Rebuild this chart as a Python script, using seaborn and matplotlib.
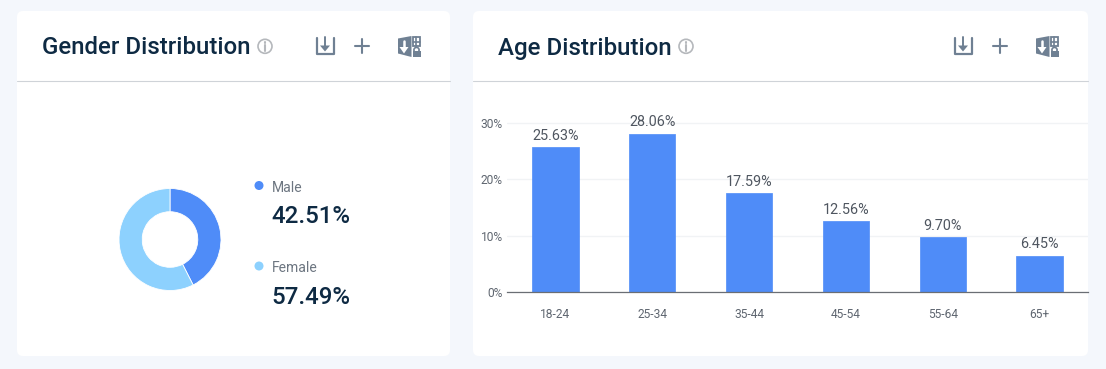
import matplotlib
matplotlib.use("Agg")
import matplotlib.pyplot as plt
from matplotlib.patches import FancyBboxPatch, Circle, Rectangle, Polygon
import seaborn as sns

genders = ["Male", "Female"]
gender_shares = [42.51, 57.49]
age_groups = ["18-24", "25-34", "35-44", "45-54", "55-64", "65+"]
age_shares = [25.63, 28.06, 17.59, 12.56, 9.70, 6.45]
y_ticks = [0, 10, 20, 30]
titles = ["Gender Distribution", "Age Distribution"]

W, H = 1106, 369
BLUE = "#4f8cf8"
LIGHT = "#8dd1fe"
DARK = "#0e2a43"
ICON = "#6f8093"

sns.set_theme(style="white")
plt.rcParams["font.family"] = ["Roboto", "DejaVu Sans"]


def px(size):
    # CSS pixels to points
    return size * 72 / 100


def box(x, y, w, h):
    return [x / W, 1 - (y + h) / H, w / W, h / H]


def draw_card(ax, x0, x1, title, info_x, dl_x, plus_x, sheet_x):
    y0, y1 = 11, 356
    # faint shadow
    ax.add_patch(FancyBboxPatch((x0 + 6, y0 + 6), x1 - x0 - 12, y1 - y0 - 10,
                                boxstyle="round,pad=0,rounding_size=6",
                                fc="#e9eef6", ec="#e9eef6", lw=4))
    ax.add_patch(FancyBboxPatch((x0 + 6, y0 + 6), x1 - x0 - 12, y1 - y0 - 12,
                                boxstyle="round,pad=6,rounding_size=6",
                                fc="white", ec="none"))
    ax.plot([x0, x1], [80.8, 80.8], color="#cfd3d8", lw=0.8)
    ax.text(x0 + 24.5, 45.5, title, fontsize=px(24), fontweight="medium", color=DARK,
            va="center_baseline", ha="left")

    # info icon
    ax.add_patch(Circle((info_x, 46.3), 7, fc="none", ec="#b5b8bc", lw=1.2))
    ax.plot([info_x, info_x], [45, 50.5], color="#b5b8bc", lw=1.5)
    ax.plot([info_x, info_x], [41.5, 43.2], color="#b5b8bc", lw=1.5)

    # download icon
    ax.plot([dl_x - 8.5, dl_x - 8.5, dl_x + 8.5, dl_x + 8.5], [38, 54, 54, 38], color=ICON, lw=1.6)
    ax.plot([dl_x, dl_x], [37, 47], color=ICON, lw=1.4)
    ax.add_patch(Polygon([[dl_x - 5, 45.5], [dl_x + 5, 45.5], [dl_x, 51.5]], fc=ICON, ec="none"))

    # plus icon
    ax.plot([plus_x - 7, plus_x + 7], [46, 46], color=ICON, lw=1.5)
    ax.plot([plus_x, plus_x], [39, 53], color=ICON, lw=1.5)

    # sheet with lock icon
    ax.add_patch(Polygon([[sheet_x - 11, 38.5], [sheet_x + 2.5, 36], [sheet_x + 2.5, 57], [sheet_x - 11, 53.5]],
                         fc=ICON, ec="none"))
    ax.plot([sheet_x - 5, sheet_x - 5], [41, 49], color="white", lw=1.8)
    ax.add_patch(Polygon([[sheet_x - 9.5, 47], [sheet_x - 0.5, 47], [sheet_x - 5, 53.5]], fc="white", ec="none"))
    ax.add_patch(Rectangle((sheet_x + 4, 37), 7, 9, fc="none", ec=ICON, lw=1.3))
    ax.plot([sheet_x + 4, sheet_x + 11], [41.5, 41.5], color=ICON, lw=1.2)
    ax.plot([sheet_x + 7, sheet_x + 7], [37, 46], color=ICON, lw=1.2)
    ax.add_patch(Rectangle((sheet_x + 3.5, 51), 8, 6, fc=ICON, ec="none"))
    ax.add_patch(Circle((sheet_x + 7.5, 50), 2.6, fc="none", ec=ICON, lw=1.2))


fig = plt.figure(figsize=(W / 100, H / 100), dpi=100, facecolor="#f4f7fc")

# page layer: cards, headers, legend
page = fig.add_axes([0, 0, 1, 1], zorder=0)
page.set_xlim(0, W)
page.set_ylim(H, 0)
page.axis("off")
draw_card(page, 17, 450, titles[0], 265, 325, 362, 409)
draw_card(page, 473, 1088, titles[1], 686, 963, 1000, 1047)

# donut
donut = fig.add_axes(box(119, 188.5, 102, 102), zorder=1)
donut.pie(gender_shares, colors=[BLUE, LIGHT], startangle=90, counterclock=False, radius=1,
          wedgeprops={"width": 0.455, "edgecolor": "white", "linewidth": 0.6})
donut.set_xlim(-1, 1)
donut.set_ylim(-1, 1)

# legend
legend_y = [(185.5, 186.5, 214), (266, 266.5, 294.5)]
for name, share, color, (dot_y, label_y, value_y) in zip(genders, gender_shares, [BLUE, LIGHT], legend_y):
    page.add_patch(Circle((259, dot_y), 4.5, fc=color, ec="none"))
    page.text(272, label_y, name, fontsize=px(14), color="#6d7681", va="center_baseline")
    page.text(271.5, value_y, f"{share:.2f}%", fontsize=px(24), fontweight="medium", color=DARK,
              va="center_baseline")

# bars
ax = fig.add_axes(box(507, 121.5, 581, 170.5), zorder=1)
ax.patch.set_alpha(0)
sns.barplot(x=age_groups, y=age_shares, color=BLUE, saturation=1, width=0.478, ax=ax)
for bar in ax.patches:
    bar.set_edgecolor(BLUE)
    bar.set_linewidth(0.5)
    bar.set_joinstyle("round")
ax.set_xlim(-0.5, len(age_groups) - 0.5)
ax.set_ylim(0, 30.2)
ax.set_yticks(y_ticks, [f"{t}%" for t in y_ticks])
ax.yaxis.grid(True, color="#f1f3f5", lw=1)
ax.set_axisbelow(True)
sns.despine(ax=ax, left=True)
ax.spines["bottom"].set_color("#6a6e74")
ax.spines["bottom"].set_linewidth(0.9)
ax.tick_params(axis="x", length=0, pad=11.5, labelsize=px(12), labelcolor="#5f6670")
ax.tick_params(axis="y", length=0, pad=3, labelsize=px(12), labelcolor="#5f6670")
ax.bar_label(ax.containers[0], fmt="%.2f%%", padding=3, fontsize=px(14.4), color="#4f5660")

fig.savefig("out.png", dpi=100, facecolor=fig.get_facecolor())
plt.close(fig)
